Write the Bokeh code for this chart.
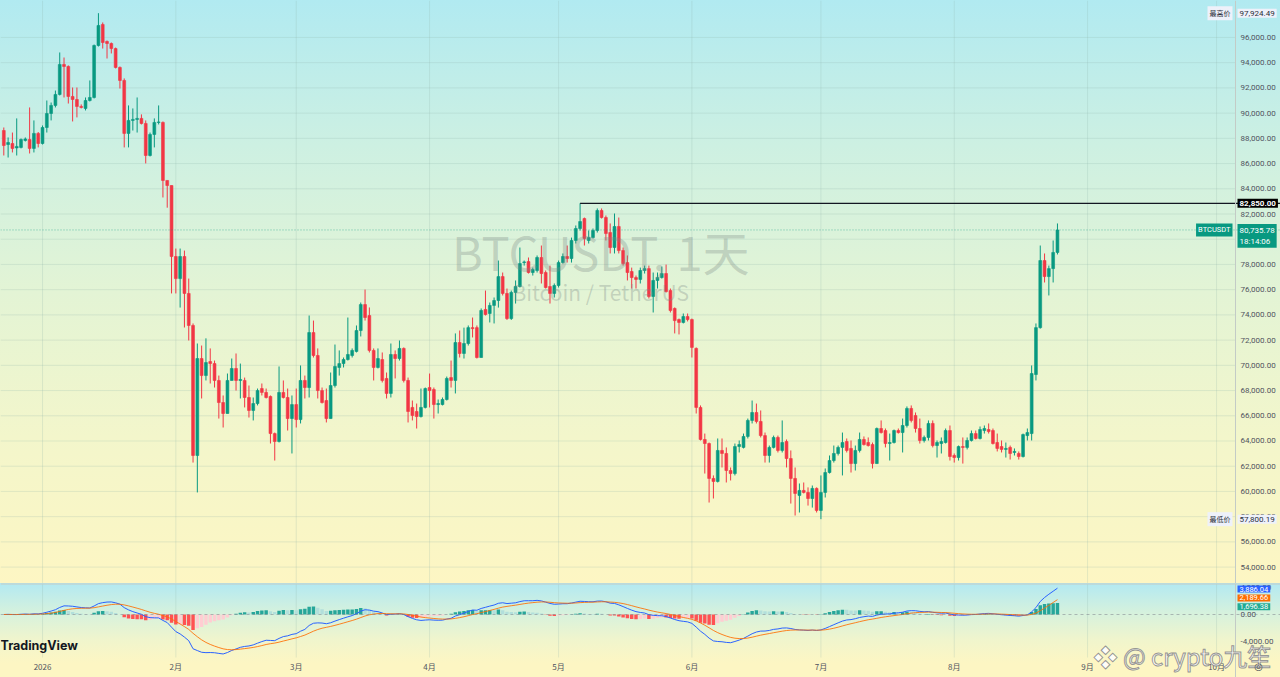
import numpy as np
import pandas as pd
from bokeh.plotting import figure
from bokeh.models import ColumnDataSource, Label, Span, Range1d
from bokeh.layouts import column
from bokeh.embed import file_html
from bokeh.resources import INLINE
from bokeh.core.properties import value

# ---------------- data (BTCUSDT daily, values in thousands of USDT) ----------------
first_day = "2025-12-23"

open_k = [
    88.62, 87.51, 87.59, 87.24, 87.28, 87.83, 87.91, 87.20, 88.39, 87.59,
    88.86, 89.97, 90.61, 91.48, 93.86, 93.70, 91.32, 91.08, 90.53, 90.37,
    91.00, 91.24, 95.36, 97.03, 95.68, 95.52, 95.12, 93.62, 92.59, 88.39,
    89.42, 89.50, 89.58, 89.18, 86.64, 88.31, 89.26, 89.26, 84.66, 84.26,
    78.63, 76.88, 78.63, 75.70, 73.16, 62.85, 70.54, 69.19, 70.30, 70.14,
    68.80, 67.05, 66.18, 68.80, 69.75, 68.80, 68.80, 67.45, 66.42, 66.97,
    68.16, 67.85, 67.53, 64.59, 63.96, 67.85, 67.45, 65.78, 66.89, 65.70,
    68.80, 68.24, 72.60, 70.78, 68.00, 67.21, 65.78, 68.40, 69.83, 70.14,
    70.46, 70.78, 71.10, 72.76, 74.82, 73.95, 71.18, 69.83, 70.46, 68.96,
    67.77, 70.86, 70.54, 71.34, 68.80, 66.66, 66.34, 65.94, 66.66, 68.24,
    68.08, 66.89, 66.89, 67.29, 69.03, 68.80, 71.81, 70.94, 71.73, 72.99,
    72.99, 70.62, 74.43, 74.11, 74.75, 75.14, 77.04, 75.70, 73.71, 75.78,
    76.25, 78.15, 78.23, 77.36, 77.52, 78.55, 77.36, 76.25, 75.70, 76.33,
    78.15, 78.63, 78.47, 79.90, 80.85, 81.64, 79.90, 80.13, 80.69, 82.28,
    81.72, 80.53, 79.34, 81.01, 79.10, 78.15, 77.44, 76.96, 76.81, 77.52,
    77.67, 75.46, 76.73, 76.96, 77.28, 75.93, 74.51, 73.63, 73.40, 73.87,
    73.63, 71.34, 66.66, 64.12, 63.80, 61.03, 60.79, 63.25, 63.01, 61.66,
    61.42, 63.56, 63.49, 64.36, 65.63, 66.26, 65.55, 64.43, 62.85, 63.49,
    64.28, 63.25, 63.96, 62.61, 61.03, 59.68, 60.08, 59.92, 59.44, 60.24,
    58.49, 59.92, 61.50, 62.45, 63.01, 63.49, 63.96, 63.41, 62.21, 63.25,
    64.12, 63.88, 63.72, 62.21, 64.99, 64.83, 63.80, 63.88, 64.83, 64.67,
    65.23, 66.58, 66.02, 64.99, 64.04, 64.28, 65.39, 63.64, 63.80, 63.88,
    64.83, 62.85, 62.69, 63.56, 63.49, 64.04, 64.59, 64.20, 64.83, 64.91,
    64.83, 63.88, 63.56, 63.33, 63.49, 63.09, 63.01, 62.77, 64.43, 64.59,
    69.27, 72.99, 78.31, 77.04, 77.67, 78.95,
]

high_k = [
    88.86, 88.07, 88.46, 89.58, 87.99, 88.07, 90.45, 89.42, 88.50, 89.02,
    91.00, 90.84, 91.79, 94.81, 94.41, 93.78, 92.03, 92.03, 90.69, 91.24,
    92.59, 95.44, 97.92449, 97.19, 95.76, 95.60, 95.20, 93.70, 92.75, 90.61,
    90.37, 91.24, 89.90, 89.42, 88.46, 89.58, 90.61, 89.34, 84.66, 84.26,
    79.26, 79.26, 79.10, 76.88, 73.32, 71.73, 71.57, 72.14, 71.34, 70.38,
    69.19, 67.61, 69.35, 70.54, 70.94, 70.14, 69.03, 68.40, 67.45, 68.16,
    68.56, 68.16, 67.61, 64.67, 69.91, 68.80, 68.16, 67.61, 68.16, 69.99,
    69.19, 73.95, 73.55, 71.34, 68.24, 68.16, 69.43, 71.65, 71.18, 70.62,
    73.79, 71.34, 73.16, 74.98, 76.01, 74.59, 71.34, 71.34, 71.02, 69.43,
    71.73, 71.18, 71.97, 71.42, 69.03, 67.21, 66.97, 68.16, 68.24, 69.35,
    68.24, 67.29, 67.45, 69.11, 70.38, 72.53, 72.76, 72.99, 73.16, 73.79,
    73.16, 74.51, 75.93, 74.98, 75.38, 78.31, 77.36, 76.09, 75.93, 76.73,
    79.34, 78.31, 78.55, 77.75, 78.71, 79.50, 77.52, 77.91, 76.49, 78.31,
    78.87, 79.50, 80.13, 81.09, 82.85, 81.72, 80.69, 80.85, 82.44, 82.44,
    81.88, 81.25, 82.04, 81.72, 79.34, 78.71, 77.75, 77.12, 77.75, 77.91,
    77.91, 77.36, 77.36, 77.83, 77.99, 76.09, 74.59, 73.71, 74.11, 74.11,
    73.71, 71.42, 66.82, 64.59, 63.88, 61.27, 64.20, 64.20, 63.49, 61.90,
    63.80, 64.04, 64.59, 65.78, 67.21, 66.97, 66.42, 64.67, 63.64, 64.43,
    64.43, 65.63, 64.12, 63.25, 61.90, 60.63, 60.71, 60.32, 60.47, 60.32,
    61.27, 61.82, 62.85, 63.64, 63.64, 64.67, 64.20, 64.04, 63.64, 64.67,
    64.36, 64.28, 63.88, 65.07, 65.63, 64.99, 64.59, 64.91, 64.99, 65.78,
    66.74, 66.82, 66.26, 65.78, 64.43, 65.63, 65.63, 64.04, 64.28, 64.99,
    65.23, 63.01, 63.64, 64.28, 64.28, 64.83, 64.83, 65.15, 65.23, 65.39,
    64.99, 64.59, 64.04, 63.88, 63.64, 63.41, 63.17, 64.59, 64.99, 69.99,
    73.32, 79.50, 78.87, 77.91, 79.90, 81.25,
]

low_k = [
    86.64, 86.48, 86.88, 86.64, 87.20, 87.75, 86.80, 86.88, 87.28, 87.51,
    88.46, 89.42, 90.45, 91.40, 91.24, 90.76, 89.34, 89.66, 90.37, 90.21,
    90.92, 91.16, 95.28, 95.12, 94.33, 94.73, 93.54, 91.95, 87.28, 87.28,
    88.62, 88.46, 89.10, 86.01, 86.56, 87.28, 89.10, 83.31, 82.50, 75.70,
    75.70, 74.58, 73.00, 71.97, 62.29, 59.92, 67.37, 68.80, 68.56, 68.24,
    65.78, 65.07, 66.18, 68.80, 68.00, 67.37, 66.66, 65.86, 65.63, 66.82,
    67.61, 67.37, 63.80, 62.45, 63.88, 67.37, 64.83, 63.01, 65.07, 65.39,
    67.37, 67.45, 70.62, 67.37, 66.97, 65.47, 65.78, 68.24, 69.19, 69.83,
    70.38, 70.62, 71.02, 72.29, 73.55, 71.02, 68.80, 69.75, 68.64, 67.37,
    67.45, 68.96, 70.38, 68.64, 65.47, 65.63, 64.99, 65.86, 66.58, 66.66,
    65.78, 66.18, 66.82, 67.21, 68.24, 67.77, 70.62, 70.54, 71.57, 72.21,
    70.54, 70.62, 73.95, 73.40, 73.32, 74.58, 75.54, 73.60, 73.60, 74.90,
    76.17, 77.91, 77.28, 77.12, 77.36, 76.49, 76.09, 74.90, 75.38, 76.17,
    78.07, 78.15, 78.15, 79.66, 80.69, 79.50, 79.66, 80.06, 80.53, 81.64,
    79.90, 78.87, 78.87, 78.87, 77.91, 76.73, 76.09, 76.09, 76.49, 77.28,
    75.30, 74.19, 76.09, 76.88, 75.77, 74.19, 72.53, 72.45, 73.32, 73.48,
    70.62, 66.18, 64.04, 61.42, 59.12, 59.44, 60.71, 61.90, 60.71, 60.87,
    61.27, 63.09, 63.41, 64.20, 65.39, 65.39, 64.28, 62.29, 62.29, 63.41,
    63.09, 63.09, 61.90, 59.04, 58.09, 58.33, 59.84, 58.88, 58.72, 58.33,
    57.80019, 59.52, 61.42, 62.29, 62.85, 61.27, 63.09, 61.50, 61.66, 63.09,
    63.64, 63.56, 61.82, 62.21, 64.59, 63.49, 62.45, 63.80, 64.59, 63.09,
    65.07, 65.47, 64.67, 63.80, 63.88, 64.04, 63.49, 62.69, 63.01, 63.80,
    62.45, 62.29, 62.45, 62.21, 63.33, 63.96, 64.12, 64.12, 64.59, 64.59,
    63.72, 63.17, 63.09, 62.69, 62.53, 62.85, 62.53, 62.69, 64.04, 64.04,
    68.80, 72.91, 76.57, 75.54, 76.57, 78.79,
]

close_k = [
    87.43, 87.67, 87.20, 87.36, 87.91, 87.95, 87.20, 88.39, 87.59, 88.86,
    89.97, 90.61, 91.48, 93.86, 93.70, 91.32, 91.08, 90.53, 90.45, 91.00,
    91.24, 95.36, 96.95, 95.60, 95.52, 95.12, 93.62, 92.59, 88.39, 89.42,
    89.50, 89.58, 89.18, 86.64, 88.31, 89.26, 89.30, 84.66, 84.26, 78.63,
    76.88, 78.63, 75.70, 73.16, 62.85, 70.54, 69.19, 70.22, 70.14, 68.80,
    67.05, 66.18, 68.80, 69.75, 68.80, 68.88, 67.45, 66.42, 66.97, 68.00,
    67.85, 67.45, 64.59, 63.96, 67.85, 67.45, 65.78, 66.89, 65.70, 68.80,
    68.24, 72.60, 70.78, 68.00, 67.05, 65.78, 68.40, 69.91, 70.14, 70.46,
    70.86, 71.18, 72.76, 74.82, 73.79, 71.18, 69.83, 70.54, 68.80, 67.77,
    70.86, 70.54, 71.34, 68.80, 66.34, 66.02, 65.94, 66.66, 68.16, 68.00,
    66.89, 66.97, 67.29, 68.96, 68.80, 71.81, 70.94, 71.73, 72.99, 72.91,
    70.62, 74.35, 74.03, 74.75, 75.14, 77.04, 75.70, 73.71, 75.78, 76.25,
    78.07, 78.20, 77.36, 77.60, 78.55, 77.28, 76.17, 75.70, 76.33, 78.15,
    78.63, 78.47, 79.90, 80.85, 81.40, 80.06, 80.13, 80.69, 82.28, 81.72,
    80.45, 79.34, 81.01, 79.10, 78.07, 77.36, 76.96, 76.81, 77.52, 77.67,
    75.46, 76.73, 76.96, 77.28, 75.85, 74.35, 73.55, 73.40, 73.87, 73.63,
    71.42, 66.66, 64.12, 63.80, 61.03, 60.79, 63.25, 63.01, 61.66, 61.42,
    63.56, 63.72, 64.36, 65.63, 66.26, 65.55, 64.43, 62.85, 63.49, 64.28,
    63.25, 63.88, 62.61, 61.03, 59.84, 60.08, 59.92, 59.44, 60.24, 58.49,
    59.92, 61.50, 62.45, 63.01, 63.49, 63.88, 63.25, 62.21, 63.25, 64.12,
    63.72, 63.64, 62.21, 64.99, 64.67, 63.80, 63.88, 64.83, 64.67, 65.23,
    66.58, 65.63, 64.99, 64.04, 64.28, 65.39, 63.64, 63.88, 63.96, 64.83,
    62.77, 62.69, 63.56, 63.49, 64.04, 64.59, 64.20, 64.91, 64.99, 64.75,
    63.80, 63.41, 63.33, 63.41, 63.01, 63.17, 62.77, 64.51, 64.67, 69.35,
    72.99, 78.31, 77.04, 77.67, 78.95, 80.73578,
]

month_starts = ["2026-01-01", "2026-02-01", "2026-03-01", "2026-04-01", "2026-05-01",
                "2026-06-01", "2026-07-01", "2026-08-01", "2026-09-01", "2026-10-01"]
month_labels = ["2026", "2月", "3月", "4月", "5月", "6月", "7月", "8月", "9月", "10月"]
price_ticks = list(range(54000, 96001, 2000))
macd_ticks = [4000, 0, -4000]

high_price = 97924.49
low_price = 57800.19
last_price = 80735.78
countdown = "18:14:06"
resistance = 82850.00
resistance_start = "2026-05-06"
macd_readout = [3886.04, 2189.66, 1696.38]   # MACD, signal, histogram (as shown)

# ---------------- derived ----------------
o = np.array(open_k) * 1000
h = np.array(high_k) * 1000
l = np.array(low_k) * 1000
c = np.array(close_k) * 1000
x = np.arange(len(c))
t0 = pd.Timestamp(first_day)
month_pos = [(pd.Timestamp(d) - t0).days for d in month_starts]
res_x = (pd.Timestamp(resistance_start) - t0).days

UP, DOWN = "#089981", "#f23645"
src = ColumnDataSource(dict(x=x, high=h, low=l,
                            top=np.maximum(o, c), bottom=np.minimum(o, c),
                            color=np.where(c >= o, UP, DOWN)))

cs = pd.Series(c)
macd = cs.ewm(span=12, adjust=False).mean() - cs.ewm(span=26, adjust=False).mean()
signal = macd.ewm(span=9, adjust=False).mean()
hist = macd - signal
prev = hist.shift(1).fillna(0)
hcol = np.where(hist >= 0, np.where(hist >= prev, "#26a69a", "#b2dfdb"),
                np.where(hist < prev, "#ff5252", "#ffcdd2"))
msrc = ColumnDataSource(dict(x=x, macd=macd.values, signal=signal.values,
                             hist=hist.values, hcol=hcol))

# ---------------- layout constants ----------------
W, PH, MH = 1280, 583, 94
PANE_W = 1235                       # width of the chart pane, price scale to its right
X0, AXIS_X = -0.77, 286.4           # day range of the chart pane
X1 = X0 + (AXIS_X - X0) * W / PANE_W
P_LO, P_HI = 52700, 98930
UPX = 148.1                         # MACD units per pixel
M_HI = 31 * UPX                     # zero line 31 px below the pane top
M_LO = M_HI - 74 * UPX              # MACD pane is 74 px tall
M_BOTTOM = M_HI - MH * UPX          # time-scale row below it
TIME_Y = M_HI - 83 * UPX
NUM_FONT = "Roboto"
CJK_FONT = "Noto Sans CJK SC"
LBL = "#50535e"
GRID = "#8fb3a8"
SCALE_LINE = "#c3cbc6"
xr = Range1d(X0, X1)


def panel(height, y_lo, y_hi, bg):
    f = figure(width=W, height=height, x_range=xr, y_range=Range1d(y_lo, y_hi),
               x_axis_location=None, y_axis_location=None,
               output_backend="svg", toolbar_location=None, min_border=0,
               background_fill_alpha=0, border_fill_alpha=0, outline_line_color=None,
               styles={"background": bg})
    f.xgrid.visible = False
    f.ygrid.visible = False
    f.add_layout(Span(location=AXIS_X, dimension="height", line_color=SCALE_LINE, line_width=1))
    return f


def scale_labels(fig, ticks):
    fig.text(x=[AXIS_X] * len(ticks), y=ticks, text=[f"{v:,.2f}" for v in ticks],
             x_offset=5, text_align="left", text_baseline="middle",
             text_font=value(NUM_FONT), text_font_size="8px", text_color=LBL)


def badge(fig, text, y, bg, fg, side="right", font=NUM_FONT, size="8px", bold=False,
          baseline="middle", y_offset=0, pad=2):
    fig.add_layout(Label(x=AXIS_X, y=y, x_offset=2 if side == "right" else -3,
                         y_offset=y_offset, text=text,
                         text_font=font, text_font_size=size, text_color=fg,
                         text_align="left" if side == "right" else "right",
                         text_baseline=baseline,
                         text_font_style="bold" if bold else "normal",
                         background_fill_color=bg, background_fill_alpha=1.0, padding=pad))


# ---------------- price pane ----------------
p = panel(PH, P_LO, P_HI,
          "linear-gradient(180deg, #b1eaf1 0%, #cdf0e2 25%, #e3f4d5 50%, #f3f6cb 75%, #fdf6c3 100%)")
p.segment(x0=[X0] * len(price_ticks), y0=price_ticks, x1=[AXIS_X] * len(price_ticks),
          y1=price_ticks, line_color=GRID, line_alpha=0.22, line_width=1)
p.segment(x0=month_pos, y0=[P_LO] * len(month_pos), x1=month_pos, y1=[P_HI] * len(month_pos),
          line_color=GRID, line_alpha=0.22, line_width=1)
scale_labels(p, price_ticks)

# watermark
p.add_layout(Label(x=138.8, y=79100, text="BTCUSDT, 1天", text_font=CJK_FONT,
                   text_font_size="47px", text_color="#7d8a86", text_alpha=0.32,
                   text_align="center", text_baseline="middle"))
p.add_layout(Label(x=138.8, y=75780, text="Bitcoin / TetherUS", text_font=CJK_FONT,
                   text_font_size="21px", text_color="#7d8a86", text_alpha=0.32,
                   text_align="center", text_baseline="middle"))

# candles
p.segment(x0="x", y0="low", x1="x", y1="high", line_color="color", line_width=1, source=src)
p.vbar(x="x", width=0.66, top="top", bottom="bottom", fill_color="color",
       line_color="color", line_width=0.6, source=src)

# horizontal ray and last price line
p.ray(x=[res_x], y=[resistance], length=0, angle=0, line_color="#131722", line_width=1.3)
p.add_layout(Span(location=last_price, dimension="width", line_color="#089981",
                  line_alpha=0.55, line_dash="1 2", line_width=1))

badge(p, "最高价", high_price, "#eef1fa", "#2a2e39", side="left", font=CJK_FONT, size="7px")
badge(p, f"{high_price:,.2f}", high_price, "#eef1fa", "#2a2e39")
badge(p, f"{resistance:,.2f}", resistance, "#000000", "#ffffff", bold=True)
badge(p, "BTCUSDT", last_price, "#089981", "#ffffff", side="left", size="7.5px")
badge(p, f"{last_price:,.2f}\n{countdown}", last_price, "#089981", "#ffffff",
      baseline="top", y_offset=6)
badge(p, "最低价", low_price, "#eef1fa", "#2a2e39", side="left", font=CJK_FONT, size="7px")
badge(p, f"{low_price:,.2f}", low_price, "#eef1fa", "#2a2e39")

# ---------------- MACD pane + time scale ----------------
m = panel(MH, M_BOTTOM, M_HI,
          "linear-gradient(180deg, #b2e9f2 0%, #d4f1de 30%, #f0f5cd 60%, #fdf6c3 85%, #fdf6c3 100%)")
m.add_layout(Span(location=M_HI, dimension="width", line_color=SCALE_LINE, line_width=2))
m.segment(x0=month_pos, y0=[M_LO] * len(month_pos), x1=month_pos, y1=[M_HI] * len(month_pos),
          line_color=GRID, line_alpha=0.22, line_width=1)
m.add_layout(Span(location=0, dimension="width", line_color="#787b86",
                  line_alpha=0.5, line_dash="3 3", line_width=1))
m.vbar(x="x", width=0.8, top="hist", bottom=0, fill_color="hcol", line_color=None, source=msrc)
m.line(x="x", y="macd", line_color="#2962ff", line_width=1, source=msrc)
m.line(x="x", y="signal", line_color="#ff6d00", line_width=1, line_alpha=0.85, source=msrc)
scale_labels(m, macd_ticks)

m.text(x=month_pos, y=[TIME_Y] * len(month_pos), text=month_labels, text_align="center",
       text_baseline="middle", text_font=value(CJK_FONT), text_font_size="8px", text_color=LBL)

# value badges, stacked so none overlaps, is cut off or hides the 0.00 label
badge(m, f"{macd_readout[0]:,.2f}", macd_readout[0], "#2962ff", "#ffffff",
      size="7.5px", y_offset=-0.8, pad=(2, 1))
badge(m, f"{macd_readout[1]:,.2f}", macd_readout[1], "#ff6d00", "#ffffff",
      size="7.5px", y_offset=1.8, pad=(2, 1))
badge(m, f"{macd_readout[2]:,.2f}", macd_readout[2], "#22ab94", "#ffffff",
      size="7.5px", y_offset=-3.7, pad=(2, 1))

m.add_layout(Label(x=0, x_units="screen", y=-4590, text="TradingView",
                   text_font="Inter", text_font_style="bold", text_font_size="12.5px",
                   text_color="#131722", text_baseline="middle"))
m.add_layout(Label(x=1093, x_units="screen", y=-6000, text="❖ @ crypto九笙",
                   text_font=CJK_FONT, text_font_size="24px", text_color="#ffffff",
                   text_alpha=0.9, text_outline_color="#8a8a8a", text_baseline="middle"))
m.add_layout(Label(x=1258, x_units="screen", y=TIME_Y, text="◎", text_font="DejaVu Sans",
                   text_font_size="10px", text_color="#50535e", text_baseline="middle",
                   text_align="center"))

layout = column(p, m)
open("out.html", "w").write(file_html(layout, INLINE))
